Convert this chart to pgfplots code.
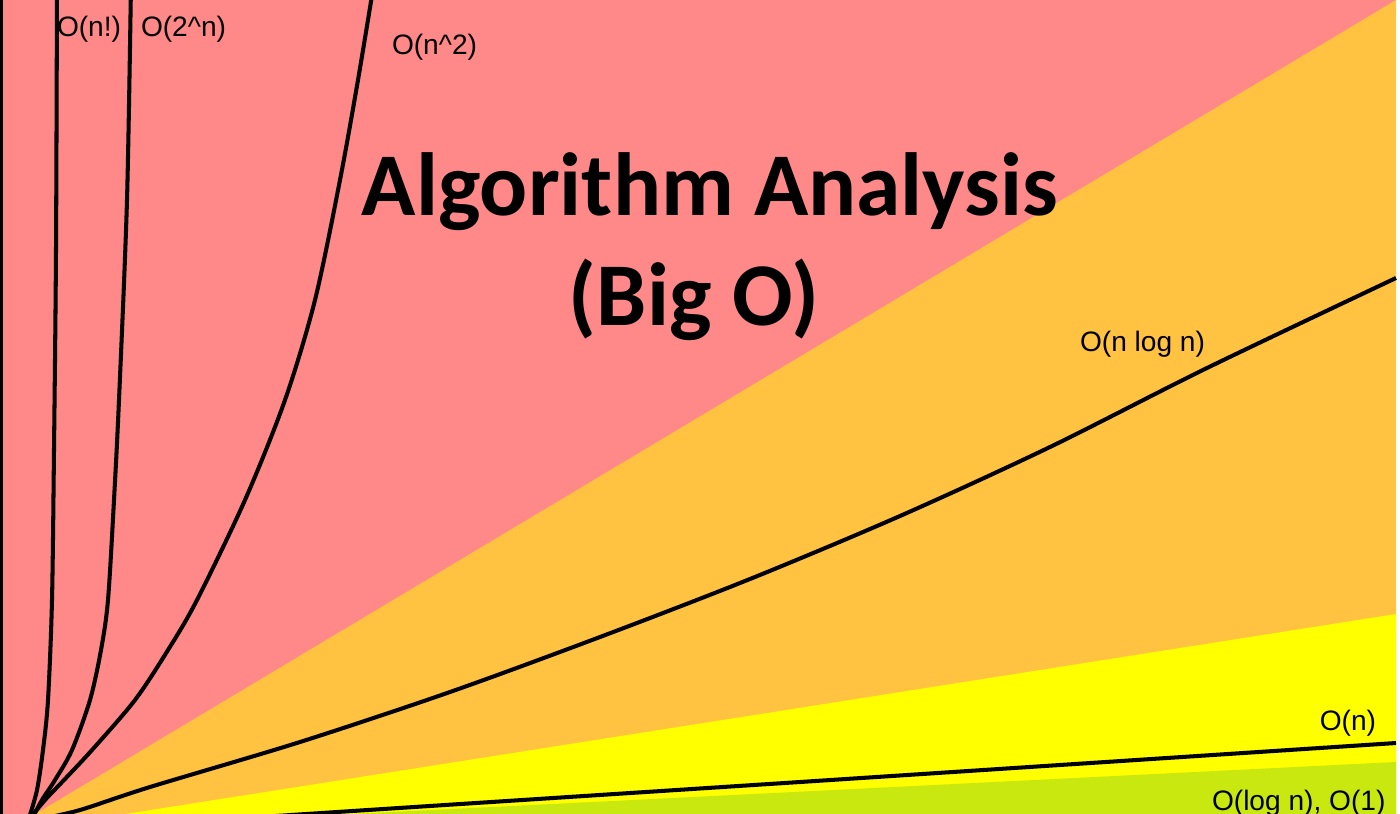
\documentclass[border=0pt]{standalone}
\usepackage{fontspec}
\setmainfont{Liberation Sans}
\newfontfamily\titlefont{Carlito}
\usepackage{pgfplots}
\pgfplotsset{compat=1.18}
\definecolor{pinkbg}{RGB}{255,136,136}
\definecolor{orangebg}{RGB}{255,195,65}
\definecolor{yellowbg}{RGB}{255,255,0}
\definecolor{greenbg}{RGB}{200,232,15}
\tikzset{lbl/.style={font=\fontsize{8}{9.6}\selectfont, inner sep=0pt, outer sep=0pt},
  ttl/.style={font=\titlefont\bfseries\fontsize{25.5}{31}\selectfont, inner sep=0pt, outer sep=0pt}}
\begin{document}
\begin{tikzpicture}
\clip (0,0) rectangle (14cm,8.13cm);
\fill[white] (0,0) rectangle (14cm,8.13cm);
\begin{axis}[at={(0,0)},anchor=south west,
  width=14cm,height=8.13cm,scale only axis,
  xmin=0,xmax=1400,ymin=0,ymax=813,
  hide axis,clip=true]
% regions
\addplot[fill=pinkbg,draw=none] coordinates {(0,-20)(1396,-20)(1396,830)(0,830)} -- cycle;
\addplot[fill=orangebg,draw=none] coordinates {(37,0)(1396,813)(1396,-20)(37,-20)} -- cycle;
\addplot[fill=yellowbg,draw=none] coordinates {(30,-16)(1396,199)(1396,-20)(30,-20)} -- cycle;
\addplot[fill=greenbg,draw=none] coordinates {(30,-17)(1396,51)(1396,-20)(30,-20)} -- cycle;
% left edge line
\addplot[black,line width=0.9pt] coordinates {(1.5,-10)(1.5,830)};
% O(n!)
\addplot[black,line width=1.15pt,smooth] coordinates {(29,-5)(37,23)(43,63)(48,113)(52,213)(54,363)(56,563)(57,830)};
% O(2^n)
\addplot[black,line width=1.15pt,smooth] coordinates {(31,-8)(42,13)(55,33)(72,63)(90,113)(101,163)(108,213)(114,313)(119,413)(127,613)(131,830)};
% O(n^2)
\addplot[black,line width=1.15pt,smooth] coordinates {(30,-5)(45,13)(64,33)(92,63)(135,113)(168,163)(197,213)(245,313)(285,413)(315,513)(340,633)(358,733)(374,830)};
% O(n log n)
\addplot[black,line width=1.15pt,smooth] coordinates {(40,-6)(80,3)(150,26)(300,71)(450,121)(600,176)(750,234)(900,297)(1050,366)(1207,445)(1396,535)};
% O(n)
\addplot[black,line width=1.15pt] coordinates {(30,-19)(337,1)(800,31)(1396,70)};
% labels
\node[lbl,anchor=base west] at (axis cs:57,776) {O(n!)};
\node[lbl,anchor=base west] at (axis cs:141,776) {O(2\textasciicircum n)};
\node[lbl,anchor=base west] at (axis cs:392,758) {O(n\textasciicircum 2)};
\node[lbl,anchor=base west] at (axis cs:1080,461) {O(n log n)};
\node[lbl,anchor=base east] at (axis cs:1376,83) {O(n)};
\node[lbl,anchor=base west] at (axis cs:1212,3) {O(log n), O(1)};
\node[ttl,anchor=base] at (axis cs:710,597) {Algorithm Analysis};
\node[ttl,anchor=base] at (axis cs:694,488) {(Big O)};
\end{axis}
\end{tikzpicture}
\end{document}
